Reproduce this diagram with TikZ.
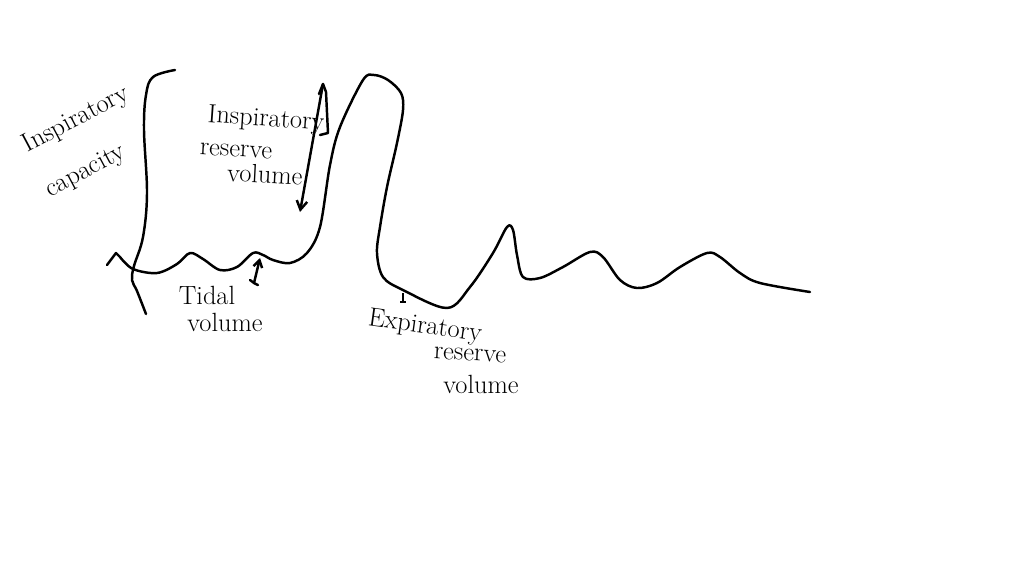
\documentclass[tikz,border=0pt]{standalone}
\usetikzlibrary{arrows.meta}
\begin{document}
\begin{tikzpicture}[x=0.02cm,y=-0.02cm,
  pen/.style={line width=1.4pt,line cap=round,line join=round},
  lbl/.style={font=\fontsize{15}{17}\selectfont,inner sep=0pt}]
\useasboundingbox (0,0) rectangle (1024,576);
% inspiratory capacity bracket
\draw[pen] plot[smooth,tension=0.6] coordinates {(175,70) (153,77) (146,95) (144,130) (147,193) (143,237) (134,266) (132,280) (137,291) (146,314)};
% small tick at start
\draw[pen] (107,265) -- (116,253) -- (120,257);
% main spirometer trace
\draw[pen] plot[smooth,tension=0.55] coordinates {(120,257) (133,269) (157,273) (177,264) (190,253) (203,259) (220,270) (237,267) (253,253) (263,255) (273,260) (290,263) (307,253) (320,227) (330,165) (340,127) (363,80) (374,75) (388,80) (401,93) (403,110) (397,143) (387,187) (380,227) (377,253) (383,277) (403,290) (447,308) (470,287) (493,253) (507,227) (513,230) (517,255) (523,277) (540,278) (563,267) (590,252) (603,257) (620,280) (637,288) (657,283) (680,267) (707,253) (720,257) (740,273) (760,283) (810,292)};
% inspiratory reserve volume arrow
\coordinate (irvB) at (300,212);
\coordinate (irvT) at (323,84);
\draw[pen,-{Straight Barb[length=5pt,width=6pt]}] (irvT) -- (irvB);
\draw[pen] (319,94) -- (323,84) -- (326,92) -- (328,133) -- (320,135);
% tidal volume arrow
\coordinate (tvB) at (254,283);
\coordinate (tvT) at (260,258);
\draw[pen,-{Straight Barb[length=4pt,width=5pt]}] (tvB) -- (tvT);
\draw[pen] (250,280) -- (254,283) -- (258,285);
% expiratory reserve tick
\coordinate (ervT) at (403,293);
\coordinate (ervB) at (403,302);
\draw[line width=1pt] (ervT) -- (ervB);
\draw[line width=1pt] (400,302) -- (406,302);
% labels
\node[lbl,rotate=28] (ic1) at (76,120) {Inspiratory};
\node[lbl,rotate=28] (ic2) at (86,172) {capacity};
\node[lbl,rotate=-4] (irv1) at (266,120) {Inspiratory};
\node[lbl,rotate=-3] (irv2) at (236,151) {reserve};
\node[lbl,rotate=-3] (irv3) at (265,174) {volume};
\node[lbl] (tv1) at (207,295) {Tidal};
\node[lbl] (tv2) at (225,322) {volume};
\node[lbl,rotate=-8] (erv1) at (425,327) {Expiratory};
\node[lbl,rotate=-3] (erv2) at (470,355) {reserve};
\node[lbl] (erv3) at (481,384) {volume};
\end{tikzpicture}
\end{document}
